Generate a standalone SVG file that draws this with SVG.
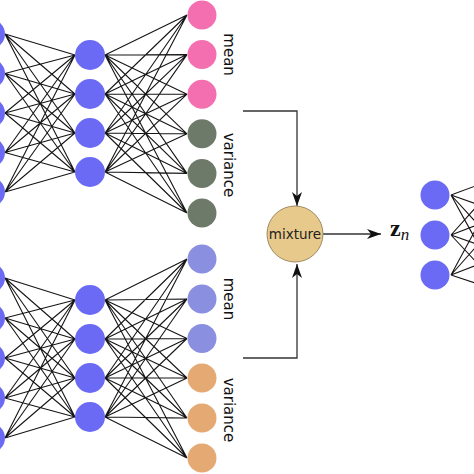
<svg xmlns="http://www.w3.org/2000/svg" width="474" height="474" viewBox="0 0 474 474">
<style>
.e{stroke:#151515;stroke-width:1.1;fill:none}
.c{stroke:#333;stroke-width:1.3;fill:none}
.blue{fill:#6a6af4}
.pink{fill:#f46fb0}
.gray{fill:#6e7a69}
.lav{fill:#8a8fe0}
.org{fill:#e5a974}
.lbl{font-family:"DejaVu Sans",sans-serif;font-size:15px;fill:#111}
</style>
<defs>
<marker id="ah" viewBox="0 0 14 10" refX="14" refY="5" markerWidth="14" markerHeight="10" markerUnits="userSpaceOnUse" orient="auto">
<path d="M0,0 L14,5 L0,10 L4,5 Z" fill="#111"/>
</marker>
</defs>
<rect width="474" height="474" fill="#fff"/>
<g id="edges" class="e">
<path d="M5,34L75,55M5,34L75,94M5,34L75,133M5,34L75,172
M5,73.5L75,55M5,73.5L75,94M5,73.5L75,133M5,73.5L75,172
M5,113L75,55M5,113L75,94M5,113L75,133M5,113L75,172
M5,152.5L75,55M5,152.5L75,94M5,152.5L75,133M5,152.5L75,172
M5,192L75,55M5,192L75,94M5,192L75,133M5,192L75,172"/>
<path d="M105,55L187,15M105,55L187,54.6M105,55L187,94.2M105,55L187,133.8M105,55L187,173.4M105,55L187,213
M105,94L187,15M105,94L187,54.6M105,94L187,94.2M105,94L187,133.8M105,94L187,173.4M105,94L187,213
M105,133L187,15M105,133L187,54.6M105,133L187,94.2M105,133L187,133.8M105,133L187,173.4M105,133L187,213
M105,172L187,15M105,172L187,54.6M105,172L187,94.2M105,172L187,133.8M105,172L187,173.4M105,172L187,213"/>
<path d="M5,278L75,300M5,278L75,339M5,278L75,378M5,278L75,417
M5,318L75,300M5,318L75,339M5,318L75,378M5,318L75,417
M5,358L75,300M5,358L75,339M5,358L75,378M5,358L75,417
M5,398L75,300M5,398L75,339M5,398L75,378M5,398L75,417
M5,438L75,300M5,438L75,339M5,438L75,378M5,438L75,417"/>
<path d="M105,300L187,259M105,300L187,299M105,300L187,338.5M105,300L187,378M105,300L187,418M105,300L187,458
M105,339L187,259M105,339L187,299M105,339L187,338.5M105,339L187,378M105,339L187,418M105,339L187,458
M105,378L187,259M105,378L187,299M105,378L187,338.5M105,378L187,378M105,378L187,418M105,378L187,458
M105,417L187,259M105,417L187,299M105,417L187,338.5M105,417L187,378M105,417L187,418M105,417L187,458"/>
<path d="M451,195L505,175M451,195L505,214M451,195L505,254M451,195L505,293
M451,235L505,175M451,235L505,214M451,235L505,254M451,235L505,293
M451,275L505,175M451,275L505,214M451,275L505,254M451,275L505,293"/>
</g>
<g id="connectors" class="c">
<path d="M243,111H297V206" marker-end="url(#ah)"/>
<path d="M243,358H297V264" marker-end="url(#ah)"/>
<path d="M323,234H381" marker-end="url(#ah)"/>
</g>
<g id="top-input">
<circle class="blue" cx="-10" cy="34" r="15"/>
<circle class="blue" cx="-10" cy="73.5" r="15"/>
<circle class="blue" cx="-10" cy="113" r="15"/>
<circle class="blue" cx="-10" cy="152.5" r="15"/>
<circle class="blue" cx="-10" cy="192" r="15"/>
</g>
<g id="top-hidden">
<circle class="blue" cx="90" cy="55" r="15"/>
<circle class="blue" cx="90" cy="94" r="15"/>
<circle class="blue" cx="90" cy="133" r="15"/>
<circle class="blue" cx="90" cy="172" r="15"/>
</g>
<g id="top-mean">
<circle class="pink" cx="202" cy="15" r="14.5"/>
<circle class="pink" cx="202" cy="54.6" r="14.5"/>
<circle class="pink" cx="202" cy="94.2" r="14.5"/>
<text class="lbl" transform="translate(224,54.6) rotate(90)" text-anchor="middle">mean</text>
</g>
<g id="top-variance">
<circle class="gray" cx="202" cy="133.8" r="14.5"/>
<circle class="gray" cx="202" cy="173.4" r="14.5"/>
<circle class="gray" cx="202" cy="213" r="14.5"/>
<text class="lbl" transform="translate(224,165) rotate(90)" text-anchor="middle">variance</text>
</g>
<g id="bottom-input">
<circle class="blue" cx="-10" cy="278" r="15"/>
<circle class="blue" cx="-10" cy="318" r="15"/>
<circle class="blue" cx="-10" cy="358" r="15"/>
<circle class="blue" cx="-10" cy="398" r="15"/>
<circle class="blue" cx="-10" cy="438" r="15"/>
</g>
<g id="bottom-hidden">
<circle class="blue" cx="90" cy="300" r="15"/>
<circle class="blue" cx="90" cy="339" r="15"/>
<circle class="blue" cx="90" cy="378" r="15"/>
<circle class="blue" cx="90" cy="417" r="15"/>
</g>
<g id="bottom-mean">
<circle class="lav" cx="202" cy="259" r="14.5"/>
<circle class="lav" cx="202" cy="299" r="14.5"/>
<circle class="lav" cx="202" cy="338.5" r="14.5"/>
<text class="lbl" transform="translate(224,299) rotate(90)" text-anchor="middle">mean</text>
</g>
<g id="bottom-variance">
<circle class="org" cx="202" cy="378" r="14.5"/>
<circle class="org" cx="202" cy="418" r="14.5"/>
<circle class="org" cx="202" cy="458" r="14.5"/>
<text class="lbl" transform="translate(224,410) rotate(90)" text-anchor="middle">variance</text>
</g>
<g id="mixture">
<circle cx="295" cy="234" r="28" fill="#e7c98b" stroke="#9e8a63" stroke-width="1"/>
<text x="295" y="238.5" text-anchor="middle" font-family="DejaVu Sans,sans-serif" font-size="13.5" fill="#222">mixture</text>
</g>
<g id="zn">
<text x="390" y="236" font-family="Liberation Serif,serif" font-size="24" fill="#111"><tspan font-weight="bold">z</tspan><tspan font-style="italic" font-size="17" dy="4">n</tspan></text>
</g>
<g id="right-layer">
<circle class="blue" cx="435" cy="195" r="14.5"/>
<circle class="blue" cx="435" cy="235" r="14.5"/>
<circle class="blue" cx="435" cy="275" r="14.5"/>
</g>
</svg>
